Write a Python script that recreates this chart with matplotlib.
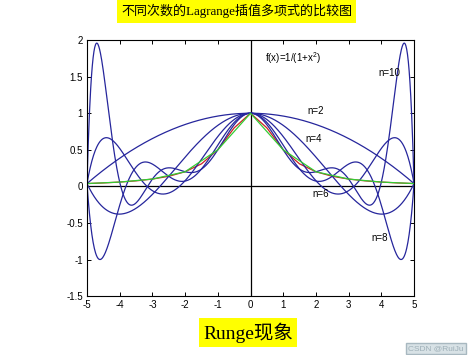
import numpy as np
import matplotlib
matplotlib.use("Agg")
import matplotlib.pyplot as plt
from numpy.polynomial import Polynomial

# interpolation nodes (x, f(x)) for each degree n
nodes_x = {
    2: [-5.0, 0.0, 5.0],
    4: [-5.0, -2.5, 0.0, 2.5, 5.0],
    6: [-5.0, -3.333, -1.667, 0.0, 1.667, 3.333, 5.0],
    8: [-5.0, -3.75, -2.5, -1.25, 0.0, 1.25, 2.5, 3.75, 5.0],
    10: [-5.0, -4.0, -3.0, -2.0, -1.0, 0.0, 1.0, 2.0, 3.0, 4.0, 5.0],
}
nodes_y = {
    2: [0.0385, 1.0, 0.0385],
    4: [0.0385, 0.1379, 1.0, 0.1379, 0.0385],
    6: [0.0385, 0.0826, 0.2647, 1.0, 0.2647, 0.0826, 0.0385],
    8: [0.0385, 0.0664, 0.1379, 0.3902, 1.0, 0.3902, 0.1379, 0.0664, 0.0385],
    10: [0.0385, 0.0588, 0.1, 0.2, 0.5, 1.0, 0.5, 0.2, 0.1, 0.0588, 0.0385],
}

# f(x) read at coarse steps (green = step 1, red = step 0.5)
green_x = [-5, -4, -3, -2, -1, 0, 1, 2, 3, 4, 5]
green_y = [0.0385, 0.0588, 0.1, 0.2, 0.5, 1.0, 0.5, 0.2, 0.1, 0.0588, 0.0385]
red_x = [-5, -4.5, -4, -3.5, -3, -2.5, -2, -1.5, -1, -0.5, 0,
         0.5, 1, 1.5, 2, 2.5, 3, 3.5, 4, 4.5, 5]
red_y = [0.0385, 0.0471, 0.0588, 0.0755, 0.1, 0.1379, 0.2, 0.3077, 0.5, 0.8, 1.0,
         0.8, 0.5, 0.3077, 0.2, 0.1379, 0.1, 0.0755, 0.0588, 0.0471, 0.0385]

xticks = [-5, -4, -3, -2, -1, 0, 1, 2, 3, 4, 5]
yticks = [-1.5, -1, -0.5, 0, 0.5, 1, 1.5, 2]
ytick_labels = ['-1.5', '-1', '-0.5', '0', '0.5', '1', '1.5', '2']

curve_labels = {
    2: (1.74, 1.03),
    4: (1.68, 0.65),
    6: (1.9, -0.1),
    8: (3.7, -0.7),
    10: (3.9, 1.55),
}

plt.rcParams['mathtext.fontset'] = 'custom'
plt.rcParams['mathtext.rm'] = 'Liberation Sans'
plt.rcParams['mathtext.it'] = 'Liberation Sans'

BLUE = '#26269c'
sans = ['Liberation Sans', 'DejaVu Sans']
serif_cjk = ['Liberation Serif', 'Noto Sans CJK SC']

fig = plt.figure(figsize=(4.74, 3.55), dpi=100)
ax = fig.add_axes([0.1835, 0.166, 0.69, 0.721])

xx = np.linspace(-5, 5, 801)
ax.plot(red_x, red_y, color='#cc2222', lw=0.9)
for n in [2, 4, 6, 8, 10]:
    p = Polynomial.fit(nodes_x[n], nodes_y[n], deg=n)
    ax.plot(xx, p(xx), color=BLUE, lw=0.9)
ax.plot(green_x, green_y, color='#33cc33', lw=0.9)

ax.axhline(0, color='black', lw=0.9, zorder=1.5)
ax.axvline(0, color='black', lw=0.9, zorder=1.5)

ax.set_xlim(-5, 5)
ax.set_ylim(-1.5, 2)
ax.set_xticks(xticks)
ax.set_xticklabels([str(t) for t in xticks])
ax.set_yticks(yticks)
ax.set_yticklabels(ytick_labels)
ax.tick_params(direction='in', length=3, width=0.7, top=True, right=True,
               labelsize=7, pad=3)
for lab in ax.get_xticklabels() + ax.get_yticklabels():
    lab.set_family(sans)
for sp in ax.spines.values():
    sp.set_linewidth(0.8)

ax.text(0.45, 1.75, 'f(x)=1/(1+x$^{2}$)', fontsize=7, family=sans, va='center')
for n, (tx, ty) in curve_labels.items():
    ax.text(tx, ty, 'n=%d' % n, fontsize=7, family=sans, va='center')

fig.text(0.499, 0.968, '不同次数的Lagrange插值多项式的比较图', fontsize=9.4,
         family=serif_cjk, ha='center', va='center',
         bbox=dict(facecolor='#ffff00', edgecolor='none', pad=3))
fig.text(0.523, 0.063, 'Runge现象', fontsize=14, family=serif_cjk,
         ha='center', va='center',
         bbox=dict(facecolor='#ffff00', edgecolor='none', pad=3))
fig.text(0.92, 0.018, 'CSDN @RuiJu', fontsize=6, family=sans, color='#9fb0b8',
         ha='center', va='center',
         bbox=dict(facecolor='#d8e2e6', edgecolor='#a8b8c0', pad=1.5))

fig.savefig('out.png', dpi=100)
